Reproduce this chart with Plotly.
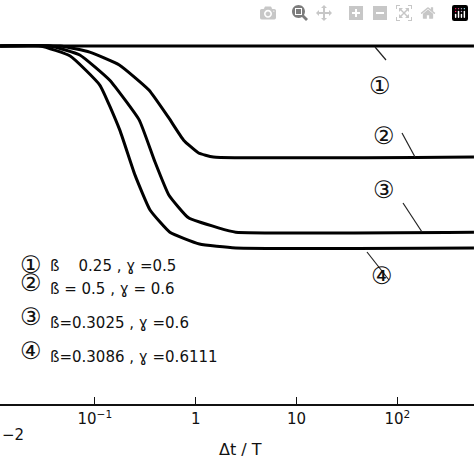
import plotly.graph_objects as go

# values: x = Δt/T (log), y = normalized response
x1 = [0.0115, 575]
y1 = [1.0, 1.0]
x2 = [0.0115, 0.0453, 0.089, 0.175, 0.344, 0.542, 0.76, 1.07, 1.50, 575]
y2 = [1.0, 1.0, 0.983, 0.947, 0.877, 0.799, 0.737, 0.701, 0.690, 0.690]
x3 = [0.0115, 0.0362, 0.071, 0.140, 0.276, 0.388, 0.542, 0.85, 1.68, 2.5, 575]
y3 = [1.0, 1.0, 0.975, 0.905, 0.793, 0.682, 0.584, 0.520, 0.492, 0.480, 0.480]
x4 = [0.0115, 0.0289, 0.057, 0.112, 0.177, 0.250, 0.353, 0.555, 1.09, 2.5, 575]
y4 = [1.0, 1.0, 0.972, 0.891, 0.765, 0.640, 0.542, 0.480, 0.447, 0.436, 0.436]
tick_vals = [0.1, 1, 10, 100]
tick_text = ["10<sup>−1</sup>", "1", "10", "10<sup>2</sup>"]
legend_marks = ["①", "②", "③", "④"]
legend_lines = ["ß    0.25 , ɣ =0.5", "ß = 0.5 , ɣ = 0.6",
                "ß=0.3025 , ɣ =0.6", "ß=0.3086 , ɣ =0.6111"]

fig = go.Figure()
for xs, ys in [(x1, y1), (x2, y2), (x3, y3), (x4, y4)]:
    fig.add_trace(go.Scatter(x=xs, y=ys, mode="lines",
                             line=dict(color="black", width=3, shape="spline", smoothing=0.4)))

def px(p): return p / 474
def py(p): return (404 - p) / 404

fnt = dict(family="DejaVu Sans", size=15, color="#111")
big = dict(family="DejaVu Sans", size=24, color="#111")
labels = [("①", 393, 70, (375, 47), (386, 60)), ("②", 397, 120, (415, 157), (402, 133)),
          ("③", 397, 190, (422, 232), (403, 203)), ("④", 395, 292, (367, 252), (389, 280))]
for t, lx, ly, a, b in labels:
    fig.add_annotation(text=t, x=px(lx), y=py(ly), xref="paper", yref="paper", showarrow=False, font=big)
    fig.add_shape(type="line", xref="paper", yref="paper", x0=px(a[0]), y0=py(a[1]), x1=px(b[0]), y1=py(b[1]),
                  line=dict(color="#222", width=1.2))
for i, (m, s) in enumerate(zip(legend_marks, legend_lines)):
    fig.add_annotation(text=m, x=px(18), y=py(265 + i * 34), xref="paper", yref="paper", showarrow=False, font=big)
    fig.add_annotation(text=s, x=px(48), y=py(266 + i * 34), xref="paper", yref="paper", showarrow=False,
                       xanchor="left", font=fnt)
fig.add_annotation(text="−2", x=0, y=-0.05, xref="paper", yref="paper", showarrow=False, xanchor="left",
                   yanchor="top", font=fnt)
fig.add_annotation(text="Δt / T", x=px(240), y=-0.085, xref="paper", yref="paper", showarrow=False,
                   yanchor="top", font=dict(family="DejaVu Sans", size=16, color="#111"))

fig.update_layout(width=474, height=474, margin=dict(l=0, r=0, t=0, b=70), showlegend=False,
                  plot_bgcolor="white", paper_bgcolor="white")
fig.update_xaxes(type="log", range=[-1.94, 2.76], tickvals=tick_vals, ticktext=tick_text,
                 ticks="inside", ticklen=7, tickcolor="#111", showgrid=False, showline=True,
                 linecolor="#111", linewidth=2, zeroline=False, tickfont=fnt)
fig.update_yaxes(range=[0, 404 / 358], visible=False)
fig.write_html("out.html", post_script="document.body.style.margin='0';")
